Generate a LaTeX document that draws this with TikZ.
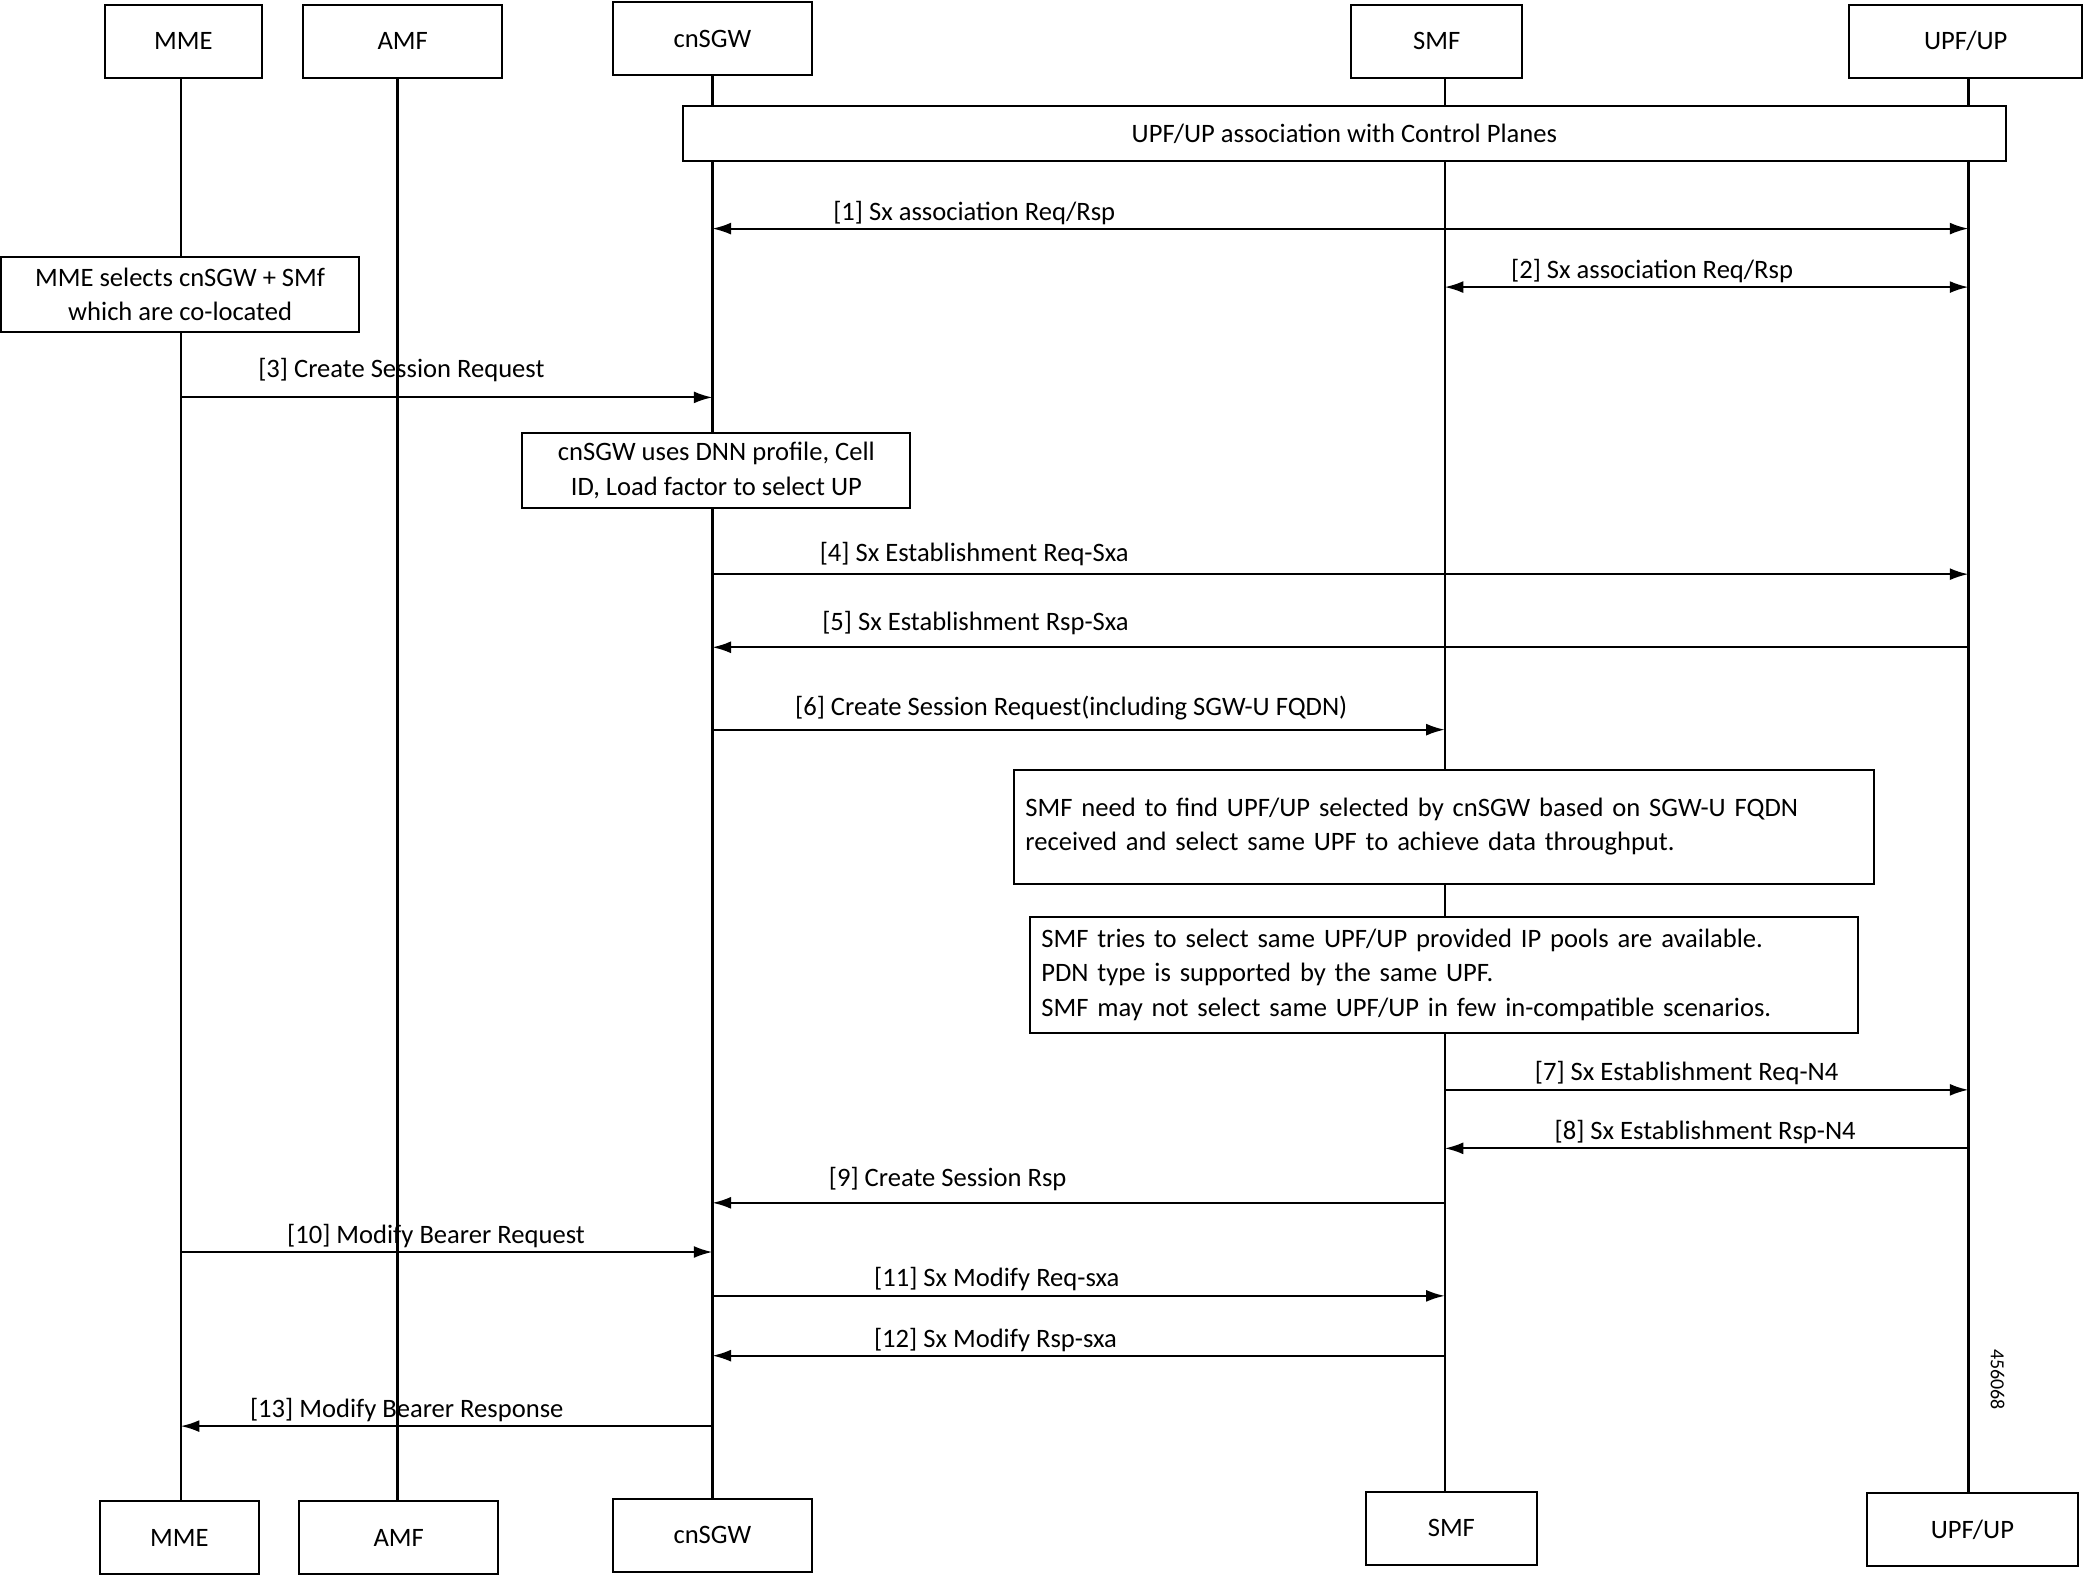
\documentclass[tikz,border=0pt]{standalone}
\usepackage{fontspec}
\setmainfont{Carlito}
\usetikzlibrary{arrows.meta}
\tikzset{
  ent/.style={draw,minimum height=55pt,inner sep=2pt},
  note/.style={draw,fill=white,align=center,inner sep=3pt},
  life/.style={line width=1.8pt},
  msg/.style={-{Latex[length=14pt,width=9pt]}},
  bmsg/.style={{Latex[length=14pt,width=9pt]}-{Latex[length=14pt,width=9pt]}},
  lbl/.style={above=-1pt}
}
\begin{document}
\begin{tikzpicture}[x=1pt,y=-1pt,font=\fontsize{20}{26}\selectfont,line width=1.5pt]
\useasboundingbox (0,0) rectangle (1568,1188);
% entities
\node[ent,minimum width=118pt] (mme)  at (138,31)  {MME};
\node[ent,minimum width=150pt] (amf)  at (303,31)  {AMF};
\node[ent,minimum width=150pt] (cn)   at (536,29)  {cnSGW};
\node[ent,minimum width=129pt] (smf)  at (1081,31) {SMF};
\node[ent,minimum width=175pt] (upf)  at (1479,31) {UPF/UP};
\node[ent,minimum width=120pt] (mmeB) at (135,1157) {MME};
\node[ent,minimum width=150pt] (amfB) at (300,1157) {AMF};
\node[ent,minimum width=150pt] (cnB)  at (536,1155) {cnSGW};
\node[ent,minimum width=129pt] (smfB) at (1092,1150) {SMF};
\node[ent,minimum width=159pt] (upfB) at (1484,1151) {UPF/UP};
% lifelines
\coordinate (l1) at (136,0);
\coordinate (l2) at (299,0);
\coordinate (l3) at (536,0);
\coordinate (l4) at (1087,0);
\coordinate (l5) at (1481,0);
\draw[life] (l1 |- mme.south) -- (l1 |- mmeB.north);
\draw[life] (l2 |- amf.south) -- (l2 |- amfB.north);
\draw[life] (l3 |- cn.south)  -- (l3 |- cnB.north);
\draw[life] (l4 |- smf.south) -- (l4 |- smfB.north);
\draw[life] (l5 |- upf.south) -- (l5 |- upfB.north);
% notes
\node[note,minimum width=995pt,minimum height=41pt] (assoc) at (1011.5,100.5) {UPF/UP association with Control Planes};
\node[note,minimum width=269pt,minimum height=57pt] (mmenote) at (135.5,221.5) {MME selects cnSGW + SMf\\which are co-located};
\node[note,minimum width=292pt,minimum height=56pt] (cnnote) at (539,354) {cnSGW uses DNN profile, Cell\\ID, Load factor to select UP};
\node[note,align=left,minimum width=647pt,minimum height=86pt,text width=630pt] (smfnote1) at (1086.5,622) {SMF need to find UPF/UP selected by cnSGW based on SGW-U FQDN\\received and select same UPF to achieve data throughput.};
\node[note,align=left,minimum width=623pt,minimum height=87pt,text width=606pt] (smfnote2) at (1086.5,733.5) {SMF tries to select same UPF/UP provided IP pools are available.\\PDN type is supported by the same UPF.\\SMF may not select same UPF/UP in few in-compatible scenarios.};
% messages
\draw[bmsg] (l3 |- 0,172) -- (l5 |- 0,172);
\node[lbl] (t1) at (733,172) {[1] Sx association Req/Rsp};
\draw[bmsg] (l4 |- 0,216) -- (l5 |- 0,216);
\node[lbl] (t2) at (1243,216) {[2] Sx association Req/Rsp};
\draw[msg] (l1 |- 0,299) -- (l3 |- 0,299);
\node[lbl] (t3) at (302,290) {[3] Create Session Request};
\draw[msg] (l3 |- 0,432) -- (l5 |- 0,432);
\node[lbl] (t4) at (733,429) {[4] Sx Establishment Req-Sxa};
\draw[msg] (l5 |- 0,487) -- (l3 |- 0,487);
\node[lbl] (t5) at (734,481) {[5] Sx Establishment Rsp-Sxa};
\draw[msg] (l3 |- 0,549) -- (l4 |- 0,549);
\node[lbl] (t6) at (806,545) {[6] Create Session Request(including SGW-U FQDN)};
\draw[msg] (l4 |- 0,820) -- (l5 |- 0,820);
\node[lbl] (t7) at (1269,819) {[7] Sx Establishment Req-N4};
\draw[msg] (l5 |- 0,864) -- (l4 |- 0,864);
\node[lbl] (t8) at (1283,864) {[8] Sx Establishment Rsp-N4};
\draw[msg] (l4 |- 0,905) -- (l3 |- 0,905);
\node[lbl] (t9) at (713,899) {[9] Create Session Rsp};
\draw[msg] (l1 |- 0,942) -- (l3 |- 0,942);
\node[lbl] (t10) at (328,942) {[10] Modify Bearer Request};
\draw[msg] (l3 |- 0,975) -- (l4 |- 0,975);
\node[lbl] (t11) at (750,974) {[11] Sx Modify Req-sxa};
\draw[msg] (l4 |- 0,1020) -- (l3 |- 0,1020);
\node[lbl] (t12) at (749,1020) {[12] Sx Modify Rsp-sxa};
\draw[msg] (l3 |- 0,1073) -- (l1 |- 0,1073);
\node[lbl] (t13) at (306,1073) {[13] Modify Bearer Response};
\node[rotate=-90,font=\fontsize{15}{18}\selectfont] (fig) at (1503,1038) {456068};
\end{tikzpicture}
\end{document}
